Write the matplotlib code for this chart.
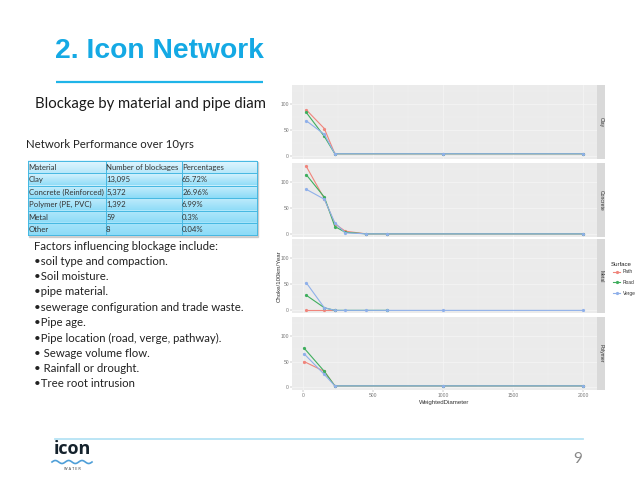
import numpy as np
import matplotlib
matplotlib.use('Agg')
import matplotlib.pyplot as plt
from matplotlib.patches import Rectangle

W, H = 638, 478

# blockage table
table_head = ['Material', 'Number of blockages', 'Percentages']
materials = ['Clay', 'Concrete (Reinforced)', 'Polymer (PE, PVC)', 'Metal', 'Other']
blockages = ['13,095', '5,372', '1,392', '59', '8']
percentages = ['65.72%', '26.96%', '6.99%', '0.3%', '0.04%']

factors = ['Factors influencing blockage include:',
           '•soil type and compaction.',
           '•Soil moisture.',
           '•pipe material.',
           '•sewerage configuration and trade waste.',
           '•Pipe age.',
           '•Pipe location (road, verge, pathway).',
           '• Sewage volume flow.',
           '• Rainfall or drought.',
           '•Tree root intrusion']

# chart data, one list per surface
clay_x = [20, 150, 225, 1000, 2000]
clay_path = [89, 53, 5, 5, 5]
clay_road = [84, 38, 5, 5, 5]
clay_verge = [68, 42, 5, 5, 5]

concrete_x = [20, 150, 225, 300, 450, 600, 2000]
concrete_path = [130, 68, 20, 6, 1, 1, 1]
concrete_road = [114, 71, 15, 4, 1, 1, 1]
concrete_verge = [86, 67, 22, 3, 1, 1, 1]

metal_x = [20, 150, 225, 300, 450, 600, 1000, 2000]
metal_path = [0, 0, 0, None, None, None, None, None]
metal_road = [29, 5, 0, None, None, 0, None, None]
metal_verge = [53, 5, 0, 0, 0, 0, 0, 0]

polymer_x = [5, 150, 225, 1000, 2000]
polymer_path = [50, 31, 3, 3, 3]
polymer_road = [76, 31, 3, 3, 3]
polymer_verge = [65, 25, 3, 3, 3]

panels = [('Clay', clay_x, clay_path, clay_road, clay_verge, 85, 159),
          ('Concrete', concrete_x, concrete_path, concrete_road, concrete_verge, 163, 237),
          ('Metal', metal_x, metal_path, metal_road, metal_verge, 239, 313),
          ('Polymer', polymer_x, polymer_path, polymer_road, polymer_verge, 317, 390)]

surfaces = ['Path', 'Road', 'Verge']
colors = ['#f0857c', '#3fae5e', '#8fb0ea']

fig = plt.figure(figsize=(W / 100, H / 100), dpi=100, facecolor='white')


def px_axes(x0, y0, x1, y1, **kw):
    return fig.add_axes([x0 / W, 1 - y1 / H, (x1 - x0) / W, (y1 - y0) / H], **kw)


# slide layer in pixel coords
bg = px_axes(0, 0, W, H)
bg.set_xlim(0, W)
bg.set_ylim(H, 0)
bg.axis('off')

bg.text(55, 51, '2. Icon Network', fontsize=20.3, fontweight='bold', family='Liberation Sans',
        color='#14a9e4', va='center')
bg.plot([56, 263], [82, 82], color='#1fb4e8', lw=1.6, solid_capstyle='butt')
bg.text(35, 104, 'Blockage by material and pipe diam', fontsize=10.7, family='Lato',
        color='#1a1a1a', va='center')
bg.text(26, 144, 'Network Performance over 10yrs', fontsize=8.2, family='Lato', color='#222222', va='center')

# table
col_x = [28, 105.5, 181.5, 257]
row_h = 12.4
top = 161
bg.add_patch(Rectangle((29, top + 1), 229, row_h * 6 + 1, color='#b8b8b8', zorder=1, alpha=0.6))
rows = [table_head] + [list(r) for r in zip(materials, blockages, percentages)]
grad = np.linspace(0, 1, 30).reshape(-1, 1)
for i, row in enumerate(rows):
    y0 = top + i * row_h
    fade = 0.75 - 0.13 * i
    c_top = np.array([0.90, 0.97, 1.0])
    c_bot = np.array([0.55, 0.86, 0.97]) if i else np.array([0.72, 0.91, 0.98])
    img = (c_top * (fade + 0.2) + c_bot * (0.8 - fade)) * (1 - grad[..., None]) + c_bot * grad[..., None]
    bg.imshow(np.clip(img, 0, 1), extent=[col_x[0], col_x[-1], y0 + row_h, y0], aspect='auto', zorder=2)
    for j, cell in enumerate(row):
        bg.text(col_x[j] + 0.6, y0 + row_h / 2 + 0.2, cell, fontsize=5.55, family='Lato',
                color='#333333', va='center', zorder=4)
for i in range(7):
    bg.plot([col_x[0], col_x[-1]], [top + i * row_h] * 2, color='#45b8e2', lw=0.7, zorder=3)
for x in col_x:
    bg.plot([x, x], [top, top + 6 * row_h], color='#45b8e2', lw=0.7, zorder=3)
bg.set_xlim(0, W)
bg.set_ylim(H, 0)

for i, line in enumerate(factors):
    bg.text(34, 246 + i * 15.33, line, fontsize=8.2, family='Lato', color='#222222', va='center')

# footer
bg.plot([55, 583], [439, 439], color='#b5e3f5', lw=1.3)
bg.text(53.5, 449, 'icon', fontsize=13, fontweight='bold', family='Open Sans', color='#15222c', va='center')
wave_x = np.linspace(52, 92, 80)
bg.plot(wave_x, 462 - 1.5 * np.sin((wave_x - 52) / 40 * 2 * np.pi * 3), color='#4f9fd8', lw=1.2)
bg.text(72, 469.5, 'W A T E R', fontsize=2.8, family='Open Sans', color='#333333', ha='center', va='center')
bg.text(578, 459, '9', fontsize=11, family='Lato', color='#888888', ha='center', va='center')

# facet panels
for k, (name, x, path, road, verge, y0, y1) in enumerate(panels):
    ax = px_axes(292, y0, 597, y1, zorder=5)
    ax.set_facecolor('#ebebeb')
    for vals, col, surf in zip((path, road, verge), colors, surfaces):
        xs = [a for a, b in zip(x, vals) if b is not None]
        ys = [b for b in vals if b is not None]
        ax.plot(xs, ys, color=col, lw=0.8, marker='o', ms=1.3, label=surf)
    ax.set_xlim(-81, 2098)
    ax.set_ylim(-5, 136)
    ax.set_xticks([0, 500, 1000, 1500, 2000])
    ax.set_xticks([250, 750, 1250, 1750], minor=True)
    ax.set_yticks([0, 50, 100])
    ax.set_yticks([25, 75, 125], minor=True)
    ax.grid(True, which='major', color='#f6f6f6', lw=0.5)
    ax.grid(True, which='minor', color='#f1f1f1', lw=0.3)
    ax.set_axisbelow(True)
    for s in ax.spines.values():
        s.set_visible(False)
    ax.tick_params(which='minor', length=0)
    ax.tick_params(which='major', axis='y', length=1.2, width=0.3, color='#888888', labelsize=3.6,
                   labelcolor='#777777', pad=1)
    ax.tick_params(which='major', axis='x', length=1.2 if k == 3 else 0, width=0.3, color='#888888',
                   labelsize=3.6, labelcolor='#777777', pad=1, labelbottom=k == 3)
    for lab in ax.get_xticklabels() + ax.get_yticklabels():
        lab.set_family('Liberation Sans')
    if k == 3:
        ax.set_xlabel('WeightedDiameter', fontsize=4.4, family='Liberation Sans', color='#333333', labelpad=1.2)
    st = px_axes(597, y0, 605, y1, zorder=5)
    st.set_facecolor('#d9d9d9')
    st.set_xticks([])
    st.set_yticks([])
    for s in st.spines.values():
        s.set_visible(False)
    st.text(0.5, 0.5, name, rotation=-90, fontsize=3.6, family='Liberation Sans', color='#333333',
            ha='center', va='center', transform=st.transAxes)

handles, labels = fig.axes[1].get_legend_handles_labels()

fg = px_axes(0, 0, W, H, zorder=6)
fg.set_xlim(0, W)
fg.set_ylim(H, 0)
fg.axis('off')
fg.text(279, 276, 'Choke/100km/Year', rotation=90, fontsize=4.4, family='Liberation Sans', color='#333333',
        ha='center', va='center')
fg.text(611, 264, 'Surface', fontsize=4.4, family='Liberation Sans', color='#222222', va='center')
fig.legend(handles, labels, loc='upper left', bbox_to_anchor=(611 / W, 1 - 267 / H), frameon=False,
           prop={'family': 'Liberation Sans', 'size': 3.5}, handlelength=1.4, labelspacing=1.15,
           borderpad=0, handletextpad=0.5, labelcolor='#333333')

fig.savefig('out.png', dpi=100)
